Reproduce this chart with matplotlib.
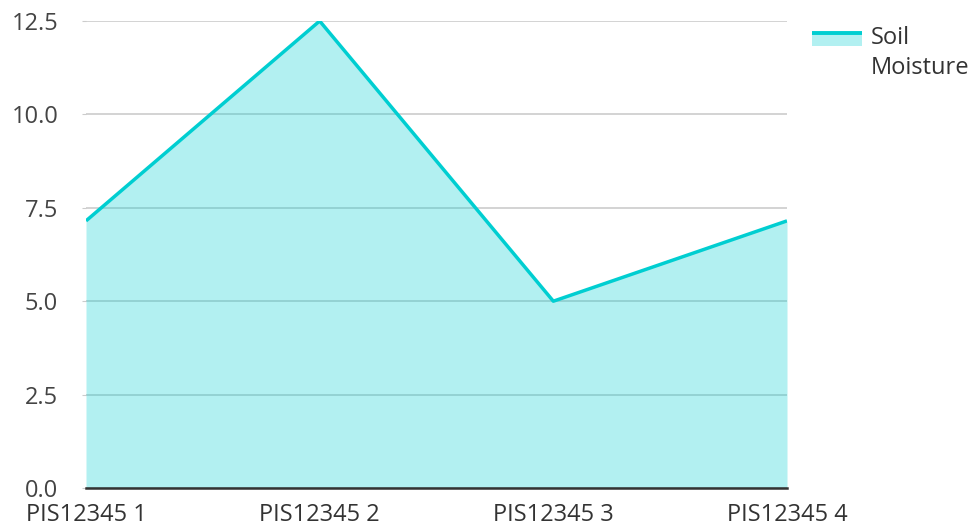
import matplotlib
matplotlib.use("Agg")
import matplotlib.pyplot as plt
from matplotlib.patches import Rectangle
from matplotlib.lines import Line2D

categories = ["PIS12345 1", "PIS12345 2", "PIS12345 3", "PIS12345 4"]
soil_moisture = [7.15, 12.5, 5.0, 7.15]
y_ticks = [0.0, 2.5, 5.0, 7.5, 10.0, 12.5]
series_name = "Soil\nMoisture"

plt.rcParams['font.family'] = ['Open Sans', 'DejaVu Sans']
LINE = "#00CED1"
TXT = "#333333"
FS = 17

W, H = 977, 529
fig = plt.figure(figsize=(W / 100, H / 100), dpi=100)
ax = fig.add_axes([86 / W, 1 - 488 / H, (787 - 86) / W, (488 - 21) / H])

x = list(range(len(categories)))
ax.fill_between(x, soil_moisture, 0, color=LINE, alpha=0.3, linewidth=0, zorder=2)
ax.plot(x, soil_moisture, color=LINE, linewidth=2.5, zorder=3, solid_capstyle='butt')

ax.set_xlim(0, len(categories) - 1)
ax.set_ylim(0, 12.5)
ax.set_yticks(y_ticks)
ax.set_yticklabels([f"{v:.1f}" for v in y_ticks])
ax.set_xticks(x)
ax.set_xticklabels(categories)
ax.yaxis.grid(True, color="#cccccc", linewidth=1.2, zorder=1)
ax.set_axisbelow(True)
for s in ["top", "right", "left"]:
    ax.spines[s].set_visible(False)
ax.spines["bottom"].set_color("#333333")
ax.spines["bottom"].set_linewidth(1.8)
ax.spines["bottom"].set_zorder(4)
ax.tick_params(axis="y", length=3, color="#cccccc", pad=17, labelsize=FS, labelcolor="#444444")
ax.tick_params(axis="x", length=0, pad=11, labelsize=FS, labelcolor="#333333")

# legend (drawn in figure pixel fractions)
def fx(px):
    return px / W

def fy(py):
    return 1 - py / H

fig.add_artist(Rectangle((fx(812), fy(45.5)), fx(862) - fx(812), fy(34) - fy(45.5),
                         transform=fig.transFigure, facecolor=LINE, alpha=0.3, edgecolor="none"))
fig.add_artist(Line2D([fx(812), fx(862)], [fy(33), fy(33)], transform=fig.transFigure,
                      color=LINE, linewidth=2.8, solid_capstyle='butt'))
fig.text(fx(871), fy(74), series_name, transform=fig.transFigure, ha="left", va="baseline",
         fontsize=FS, color=TXT, linespacing=1.35)

fig.savefig("out.png", dpi=100)
